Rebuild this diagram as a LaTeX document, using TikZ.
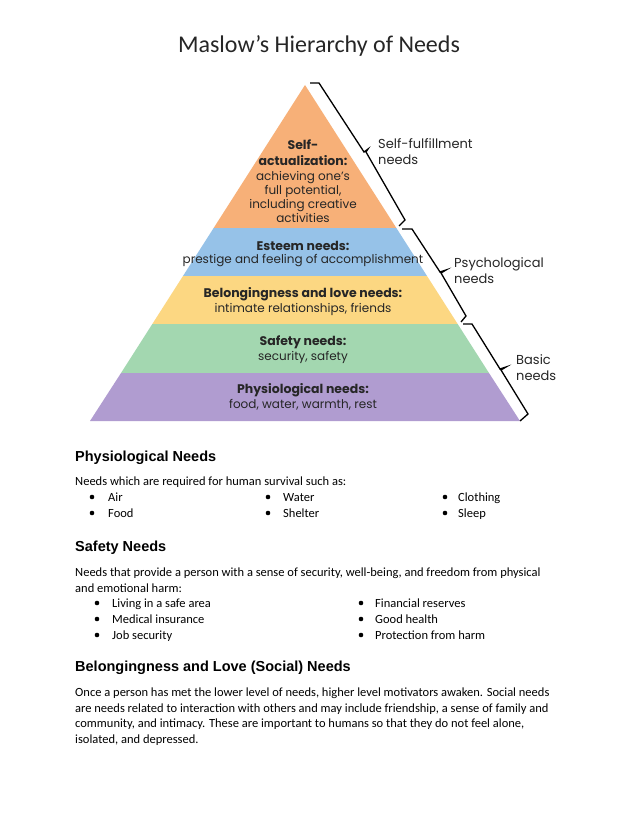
\documentclass[tikz,border=0pt]{standalone}
\usepackage{fontspec}
\setmainfont{Carlito}
\newfontfamily\pyr{Poppins}
\newfontfamily\arl{Liberation Sans}
\definecolor{cor}{RGB}{247,176,120}
\definecolor{cbl}{RGB}{150,194,232}
\definecolor{cye}{RGB}{252,215,130}
\definecolor{cgr}{RGB}{163,215,176}
\definecolor{cpu}{RGB}{176,156,208}
\begin{document}
\begin{tikzpicture}[x=1pt,y=-1pt,
  ptxt/.style={font=\pyr\fontsize{12}{14}\selectfont,align=center,text=black!85,inner sep=0},
  pbold/.style={font=\pyr\bfseries\fontsize{12.5}{14}\selectfont,inner sep=0,text=black!85},
  lbl/.style={font=\pyr\fontsize{13}{16}\selectfont,align=left,anchor=west,inner sep=0,text=black!85},
  body/.style={font=\fontsize{12.5}{15}\selectfont,anchor=base west,inner sep=0},
  head/.style={font=\arl\bfseries\fontsize{14.5}{17}\selectfont,anchor=base west,inner sep=0},
  brk/.style={draw=black,line width=1.3pt,line join=miter}]
\useasboundingbox (0,0) rectangle (638,826);
\fill[white] (0,0) rectangle (638,826);
% pyramid  apex (305,85) base 90..518 at 421
\coordinate (L1) at ({305-0.6388*143},228); \coordinate (R1) at ({305+0.6388*143},228);
\coordinate (L2) at ({305-0.6388*191},276); \coordinate (R2) at ({305+0.6388*191},276);
\coordinate (L3) at ({305-0.6388*239},324); \coordinate (R3) at ({305+0.6388*239},324);
\coordinate (L4) at ({305-0.6388*288},373); \coordinate (R4) at ({305+0.6388*288},373);
\coordinate (L5) at (90,421); \coordinate (R5) at (520,421);
\fill[cor] (305,85) -- (R1) -- (L1) -- cycle;
\fill[cbl] (L1) -- (R1) -- (R2) -- (L2) -- cycle;
\fill[cye] (L2) -- (R2) -- (R3) -- (L3) -- cycle;
\fill[cgr] (L3) -- (R3) -- (R4) -- (L4) -- cycle;
\fill[cpu] (L4) -- (R4) -- (R5) -- (L5) -- cycle;
% texts
\node[pbold] (s1) at (303,145) {Self-};
\node[pbold] (s2) at (303,161) {actualization:};
\node[ptxt] (s3) at (303,197) {achieving one’s\\full potential,\\including creative\\activities};
\node[pbold] (e1) at (303,246) {Esteem needs:};
\node[ptxt] (e2) at (303,261) {prestige and feeling of accomplishment};
\node[pbold] (b1) at (303,294) {Belongingness and love needs:};
\node[ptxt] (b2) at (303,309) {intimate relationships, friends};
\node[pbold] (f1) at (303,342) {Safety needs:};
\node[ptxt] (f2) at (303,357) {security, safety};
\node[pbold] (p1) at (303,390) {Physiological needs:};
\node[ptxt] (p2) at (303,405) {food, water, warmth, rest};
% brackets
\draw[brk] (310,83) -- (319,83) -- (364,152) -- (368,149) -- (366,152) -- (405,220) -- (399,226);
\draw[brk] (402,229) -- (412,229) -- (440,272) -- (446,270) -- (441,273) -- (466,316) -- (461,322);
\draw[brk] (463,324) -- (472,324) -- (500,369) -- (506,367) -- (501,370) -- (528,414) -- (520,421);
\node[lbl] (l1) at (378,152) {Self-fulfillment\\needs};
\node[lbl] (l2) at (454,271) {Psychological\\needs};
\node[lbl] (l3) at (516,368) {Basic\\needs};
% title
\node[font=\fontsize{24}{28}\selectfont,text=black!85] (t) at (319,46) {Maslow’s Hierarchy of Needs};
% sections
\node[head] (h1) at (75,461) {Physiological Needs};
\node[body] (n1) at (75,485) {Needs which are required for human survival such as:};
\foreach \bx/\tx/\yy/\w [count=\i] in {92/108/501/Air,92/108/517/Food,268/283/501/Water,268/283/517/Shelter,445/458/501/Clothing,445/458/517/Sleep}{
  \node[body] (ba\i) at (\tx,\yy) {\w};
  \fill (\bx,\yy-4) circle (2.3);
}
\node[head] (h2) at (75,551) {Safety Needs};
\node[body] (n2) at (75,576) {Needs that provide a person with a sense of security, well-being, and freedom from physical};
\node[body] (n3) at (75,592) {and emotional harm:};
\foreach \bx/\tx/\yy/\w [count=\i] in {97/112/607/Living in a safe area,97/112/623/Medical insurance,97/112/639/Job security,361/375/607/Financial reserves,361/375/623/Good health,361/375/639/Protection from harm}{
  \node[body] (bb\i) at (\tx,\yy) {\w};
  \fill (\bx,\yy-4) circle (2.3);
}
\node[head] (h3) at (75,671) {Belongingness and Love (Social) Needs};
\node[body] (m1) at (75,696) {Once a person has met the lower level of needs, higher level motivators awaken. Social needs};
\node[body] (m2) at (75,712) {are needs related to interaction with others and may include friendship, a sense of family and};
\node[body] (m3) at (75,727) {community, and intimacy. These are important to humans so that they do not feel alone,};
\node[body] (m4) at (75,743) {isolated, and depressed.};
\end{tikzpicture}
\end{document}
